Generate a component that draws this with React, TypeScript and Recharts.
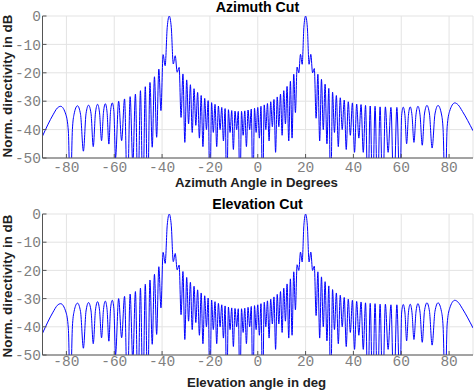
import { LineChart, Line, XAxis, YAxis, CartesianGrid } from 'recharts';

// Normalised directivity (dB) vs angle (deg).
// Both cuts show the same pattern, so they share the arrays below.

const xTicks = [-80, -60, -40, -20, 0, 20, 40, 60, 80];
const yTicks = [-50, -40, -30, -20, -10, 0];

// left flank, -90 deg up to the beam at -37 deg
const leftDeg = [
  -90, -85.6, -83.8, -82.39, -80.2, -79.2, -78.35, -77.5, -76.8, -75.38, -74.1, -72.9,
  -71.8, -70.74, -69.7, -68.78, -67.85, -66.98, -66.15, -65.31, -64.5, -63.74, -63.0,
  -62.25, -61.55, -60.83, -60.15, -59.47, -58.17, -56.91, -55.69, -54.51, -53.36, -52.24,
  -51.15, -50.08, -49.05, -48.02, -47.02, -46.04, -45.07, -44.12, -43.19, -42.27, -41.36,
  -40.47, -39.58, -38.71,
];
const leftDb = [
  -42.3, -34.8, -32.4, -31.8, -34.8, -40.5, -65, -40, -34.6, -31.6, -34.6, -47.6,
  -34.4, -31.4, -34.4, -46.0, -34.1, -31.1, -34.1, -43.9, -33.9, -30.9, -33.9,
  -45.1, -33.6, -30.6, -33.6, -50, -30.0, -43.9, -29.2, -65, -28.4, -52,
  -27.5, -65, -26.3, -65, -24.9, -65, -23.4, -46.2, -21.4, -42.7, -18.7,
  -33.3, -13.6, -17.5,
];

// between the two beams (-37 deg ... 20 deg)
const midDeg = [
  -37.85, -37.0, -36.16, -35.32, -34.5, -33.68, -32.87, -32.07, -31.28, -30.49, -29.71,
  -28.93, -28.16, -27.4, -26.64, -25.89, -25.14, -24.4, -23.65, -22.92, -22.18, -21.46,
  -20.73, -20.01, -19.29, -18.58, -17.87, -17.16, -16.45, -15.75, -15.05, -14.35, -13.65,
  -12.96, -12.26, -11.57, -10.88, -10.19, -9.51, -8.82, -8.14, -7.46, -6.78, -6.1, -5.42,
  -4.74, -4.06, -3.38, -2.71, -2.03, -1.35, -0.68, 0, 0.68, 1.35, 2.03, 2.71, 3.38, 4.06,
  4.74, 5.42, 6.1, 6.78, 7.46, 8.14, 8.82, 9.51, 10.19, 10.88, 11.57, 12.26, 12.96, 13.65,
  14.35, 15.05, 15.75, 16.45, 17.16, 17.87, 18.58, 19.29, 20.0, 20.73,
];
const midDb = [
  -4, 0, -4, -16.9, -14.0, -19.8, -18.1, -35.7, -20.4, -44.5, -22.5,
  -38, -24.2, -41, -25.6, -38.5, -26.9, -43, -28.0, -46, -29.0, -40,
  -29.8, -65, -30.5, -41, -31.1, -46, -31.7, -40, -32.2, -44, -32.6,
  -65, -33.0, -41, -33.3, -47, -33.5, -40, -33.6, -65, -33.6, -42, -33.4,
  -46, -33.1, -40, -32.8, -65, -32.5, -41, -32.2, -43, -31.8, -65, -31.3, -40, -30.8,
  -44, -30.2, -39, -29.4, -48, -28.5, -39, -27.5, -42, -26.3, -38, -24.8, -44, -23.0,
  -43, -20.5, -34, -18.0, -20, -13.5, -17, -4, 0, -4,
];

// right flank, beam at 20 deg out to 90 deg
const rightDeg = [
  21.46, 22.19, 22.92, 23.65, 24.4, 25.14, 25.89, 26.64, 27.4, 28.16, 28.93, 29.71, 30.49,
  31.28, 32.07, 32.87, 33.68, 34.5, 35.32, 36.16, 37.0, 37.85, 38.71, 39.58, 40.47, 41.36,
  42.27, 43.19, 44.12, 45.07, 46.04, 47.02, 48.02, 49.05, 50.08, 51.15, 52.24, 53.36, 54.51,
  55.69, 56.91, 58.17, 59.47, 60.15, 60.83, 61.55, 62.25, 63.0, 63.74, 64.5, 65.31, 66.15,
  66.98, 67.85, 68.78, 69.7, 70.74, 71.8, 72.9, 74.1, 75.38, 76.8, 77.5, 78.35, 79.2, 80.2,
  82.39, 83.8, 85.6, 90,
];
const rightDb = [
  -17, -13.5, -20, -18.5, -36, -20.5, -44, -22.3, -40, -24, -45, -25.5, -65,
  -26.8, -41, -28, -46, -28.8, -40, -29.6, -47, -30.2, -42, -30.6, -48, -31,
  -43, -31.2, -48, -31.5, -65, -31.7, -65, -31.8, -65, -32, -65, -32, -48,
  -32.2, -65, -32.2, -65, -35.1, -32.1, -35.1, -45, -35, -32, -35, -44.5, -34.8,
  -31.8, -34.8, -45.5, -34.5, -31.5, -34.5, -46.5, -34.5, -31.5, -34.5, -40, -65, -39, -33.6,
  -30.6, -31.3, -33.6, -40.4,
];

const toRows = (deg: number[], db: number[]) => deg.map((d, i) => ({ deg: d, db: db[i] }));

const azimuthRows = [...toRows(leftDeg, leftDb), ...toRows(midDeg, midDb), ...toRows(rightDeg, rightDb)];
const elevationRows = azimuthRows;

const W = 474;
const H = 195;
const AXIS = '#555555';
const tickStyle = { fontFamily: '"Liberation Mono", "DejaVu Sans Mono", monospace', fontSize: 14.5, fill: '#7f7f7f' };
const labelFont = '"Liberation Sans", Arial, sans-serif';

interface PanelProps {
  top: number;
  rows: { deg: number; db: number }[];
  title: string;
  xLabel: string;
  plotTop: number;
  plotHeight: number;
  titleY: number;
  xLabelY: number;
  yLabelCy: number;
  xTickMargin: number;
}

function CutPanel({ top, rows, title, xLabel, plotTop, plotHeight, titleY, xLabelY, yLabelCy, xTickMargin }: PanelProps) {
  const yLabelX = 11.5;
  return (
    <div style={{ position: 'absolute', left: 0, top, width: W, height: H }}>
      <LineChart width={W} height={H} data={rows} margin={{ top: plotTop, right: 1, bottom: 0, left: 0 }}>
        <CartesianGrid stroke="#e3e3e3" strokeWidth={1} />
        <XAxis
          dataKey="deg"
          type="number"
          domain={[-90, 90]}
          allowDataOverflow
          ticks={xTicks}
          interval={0}
          height={H - plotTop - plotHeight}
          tickSize={-4}
          tickMargin={xTickMargin}
          tick={tickStyle}
          tickLine={{ stroke: AXIS }}
          axisLine={{ stroke: AXIS }}
        />
        <XAxis
          xAxisId="top"
          orientation="top"
          type="number"
          domain={[-90, 90]}
          allowDataOverflow
          ticks={xTicks}
          interval={0}
          height={0}
          tickSize={-4}
          tick={false}
          tickLine={{ stroke: AXIS }}
          axisLine={{ stroke: AXIS }}
        />
        <YAxis
          type="number"
          domain={[-50, 0]}
          allowDataOverflow
          ticks={yTicks}
          interval={0}
          width={42.5}
          tickSize={-4}
          tickMargin={5.5}
          tick={tickStyle}
          tickLine={{ stroke: AXIS }}
          axisLine={{ stroke: AXIS }}
        />
        <YAxis
          yAxisId="right"
          orientation="right"
          type="number"
          domain={[-50, 0]}
          allowDataOverflow
          ticks={yTicks}
          interval={0}
          width={0}
          tickSize={-4}
          tick={false}
          tickLine={{ stroke: AXIS }}
          axisLine={{ stroke: AXIS }}
        />
        <Line
          type="monotone"
          dataKey="db"
          stroke="#0000ff"
          strokeWidth={1}
          dot={false}
          isAnimationActive={false}
        />
      </LineChart>
      <svg width={W} height={H} style={{ position: 'absolute', left: 0, top: 0, pointerEvents: 'none' }}>
        <text x={257.5} y={titleY} textAnchor="middle" fontFamily={labelFont} fontWeight="bold" fontSize={14.2} fill="#000">
          {title}
        </text>
        <text x={256.5} y={xLabelY} textAnchor="middle" fontFamily={labelFont} fontWeight="bold" fontSize={13.2} fill="#222">
          {xLabel}
        </text>
        <text
          x={yLabelX}
          y={yLabelCy}
          transform={`rotate(-90 ${yLabelX} ${yLabelCy})`}
          textAnchor="middle"
          fontFamily={labelFont}
          fontWeight="bold"
          fontSize={13.4}
          fill="#222"
        >
          Norm. directivity in dB
        </text>
      </svg>
    </div>
  );
}

export default function App() {
  return (
    <div style={{ position: 'absolute', left: 0, top: 0, width: W, height: 390, background: '#fff' }}>
      <CutPanel
        top={0}
        rows={azimuthRows}
        title="Azimuth Cut"
        xLabel="Azimuth Angle in Degrees"
        plotTop={16}
        plotHeight={142}
        titleY={11.5}
        xLabelY={187}
        yLabelCy={86}
        xTickMargin={7.5}
      />
      <CutPanel
        top={195}
        rows={elevationRows}
        title="Elevation Cut"
        xLabel="Elevation angle in deg"
        plotTop={19}
        plotHeight={141}
        titleY={13.5}
        xLabelY={192.3}
        yLabelCy={91}
        xTickMargin={5}
      />
    </div>
  );
}
